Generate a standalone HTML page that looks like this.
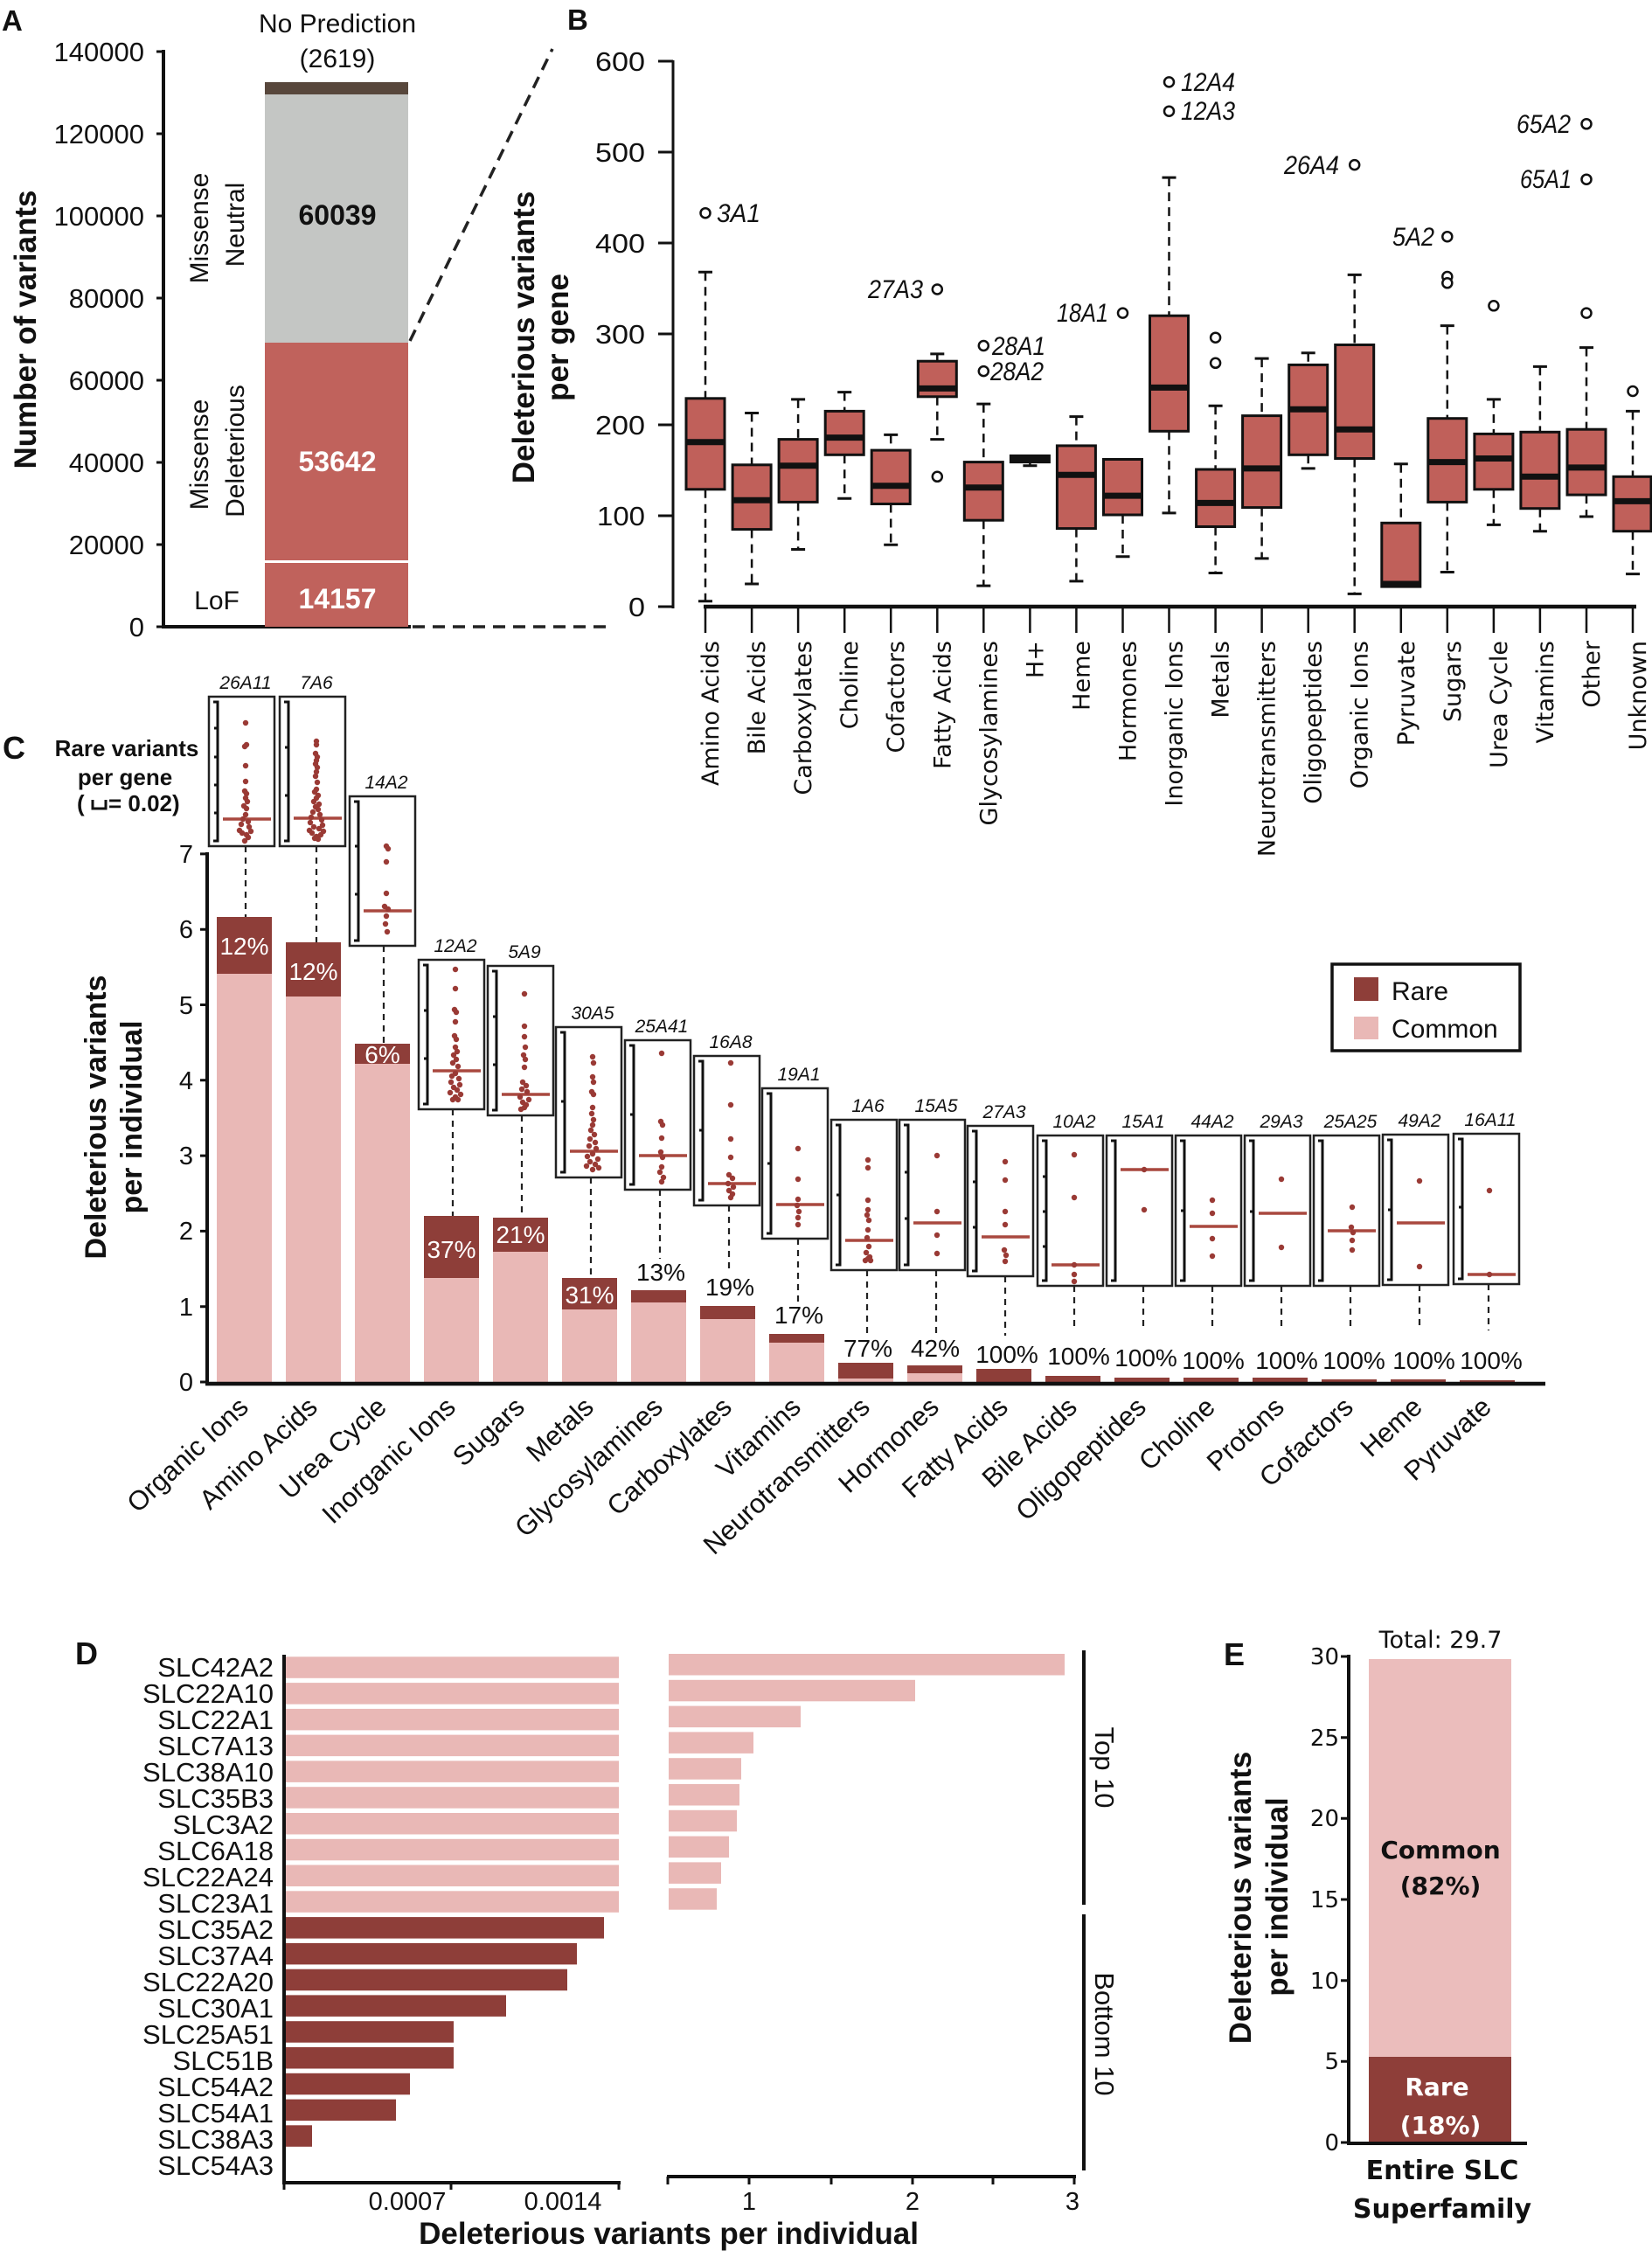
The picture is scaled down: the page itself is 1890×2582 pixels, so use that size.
<!DOCTYPE html>
<html><head><meta charset="utf-8">
<style>
html,body{margin:0;padding:0;background:#fff;}
svg{display:block;}
.l{font-family:"Liberation Sans",Arial,sans-serif;}
.d{font-family:"DejaVu Sans",sans-serif;}
</style></head><body>
<svg width="1890" height="2582" viewBox="0 0 1890 2582" xmlns="http://www.w3.org/2000/svg">
<rect width="1890" height="2582" fill="#fff"/>

<!-- ================= PANEL A ================= -->
<g class="l" fill="#111">
<text x="2" y="35" font-size="33" font-weight="bold">A</text>
<line x1="187" y1="57" x2="187" y2="719" stroke="#111" stroke-width="4"/>
<line x1="185" y1="717" x2="470" y2="717" stroke="#111" stroke-width="4"/>
<path d="M179 59H187M179 153H187M179 247H187M179 341H187M179 435H187M179 529H187M179 623H187M179 717H187" stroke="#111" stroke-width="3"/>
<g font-size="31" text-anchor="end">
<text x="165" y="70">140000</text>
<text x="165" y="164">120000</text>
<text x="165" y="258">100000</text>
<text x="165" y="352">80000</text>
<text x="165" y="446">60000</text>
<text x="165" y="540">40000</text>
<text x="165" y="634">20000</text>
<text x="165" y="728">0</text>
</g>
<rect x="303" y="94" width="164" height="14" fill="#58473C"/>
<rect x="303" y="108" width="164" height="284" fill="#C4C6C4"/>
<rect x="303" y="392" width="164" height="325" fill="#C0625C"/>
<rect x="303" y="641" width="164" height="3" fill="#fff"/>
<g font-size="30" text-anchor="middle">
<text x="386" y="37">No Prediction</text>
<text x="386" y="77">(2619)</text>
<text x="248" y="697">LoF</text>
</g>
<g font-size="32" font-weight="bold" text-anchor="middle">
<text x="386" y="257" fill="#111">60039</text>
<text x="386" y="539" fill="#fff">53642</text>
<text x="386" y="696" fill="#fff">14157</text>
</g>
<g font-size="30" text-anchor="middle">
<text transform="translate(238,261) rotate(-90)">Missense</text>
<text transform="translate(279,257) rotate(-90)">Neutral</text>
<text transform="translate(238,520) rotate(-90)">Missense</text>
<text transform="translate(279,516) rotate(-90)">Deleterious</text>
</g>
<text transform="translate(41,377) rotate(-90)" font-size="35" font-weight="bold" text-anchor="middle">Number of variants</text>
</g>
<line x1="469" y1="390" x2="632" y2="56" stroke="#222" stroke-width="3.5" stroke-dasharray="14 9"/>
<line x1="472" y1="717" x2="702" y2="717" stroke="#222" stroke-width="3.5" stroke-dasharray="14 9"/>

<!-- ================= PANEL B ================= -->
<g class="l" fill="#111">
<text x="649" y="34" font-size="33" font-weight="bold">B</text>
<text transform="translate(611,386) rotate(-90)" font-size="35" font-weight="bold" text-anchor="middle">Deleterious variants</text>
<text transform="translate(650,386) rotate(-90)" font-size="35" font-weight="bold" text-anchor="middle">per gene</text>
<line x1="770" y1="69" x2="770" y2="696" stroke="#111" stroke-width="3"/>
<path d="M753 70H770M753 174H770M753 278H770M753 382H770M753 486H770M753 590H770M753 694H770" stroke="#111" stroke-width="3"/>
<g font-size="31" text-anchor="end">
<text x="738" y="81" textLength="57" lengthAdjust="spacingAndGlyphs">600</text>
<text x="738" y="185" textLength="57" lengthAdjust="spacingAndGlyphs">500</text>
<text x="738" y="289" textLength="57" lengthAdjust="spacingAndGlyphs">400</text>
<text x="738" y="393" textLength="57" lengthAdjust="spacingAndGlyphs">300</text>
<text x="738" y="497" textLength="57" lengthAdjust="spacingAndGlyphs">200</text>
<text x="738" y="601" textLength="55" lengthAdjust="spacingAndGlyphs">100</text>
<text x="738" y="705" textLength="19" lengthAdjust="spacingAndGlyphs">0</text>
</g>
<line x1="805" y1="694" x2="1872" y2="694" stroke="#111" stroke-width="4.5"/>
<path d="M807 694V724M860.1 694V724M913.1 694V724M966.2 694V724M1019.2 694V724M1072.3 694V724M1125.3 694V724M1178.4 694V724M1231.4 694V724M1284.5 694V724M1337.5 694V724M1390.6 694V724M1443.6 694V724M1496.7 694V724M1549.7 694V724M1602.8 694V724M1655.8 694V724M1708.9 694V724M1761.9 694V724M1815 694V724M1868 694V724" stroke="#111" stroke-width="2.5"/>
</g>
<path d="M807 311.3V455.8M807 559.8V687.8M860.1 472.5V531.8M860.1 605.6V668M913.1 456.9V502.6M913.1 574.4V628.5M966.2 448.6V470.4M966.2 520.3V570.2M1019.2 497.4V515.1M1019.2 576.5V623.3M1072.3 404.9V413.2M1072.3 453.8V502.6M1125.3 462.1V528.6M1125.3 595.2V670.1M1178.4 528.6V532.8M1231.4 476.6V509.9M1231.4 604.6V664.9M1284.5 589V636.8M1337.5 203.1V361.2M1337.5 493.3V586.9M1390.6 464.2V537M1390.6 602.5V655.5M1443.6 410.1V475.6M1443.6 580.6V638.9M1496.7 403.8V417.4M1496.7 520.3V535.9M1549.7 314.4V394.5M1549.7 524.5V679.4M1602.8 530.7V598.3M1655.8 372.6V478.7M1655.8 574.4V654.5M1708.9 456.9V496.4M1708.9 559.8V600.4M1761.9 419.4V494.3M1761.9 581.7V607.7M1815 397.6V491.2M1815 566.1V591M1868 470.4V545.3M1868 607.7V656.6" stroke="#111" stroke-width="2.5" stroke-dasharray="10 7" fill="none"/>
<path d="M799 311.3h16M799 687.8h16M852.1 472.5h16M852.1 668h16M905.1 456.9h16M905.1 628.5h16M958.2 448.6h16M958.2 570.2h16M1011.2 497.4h16M1011.2 623.3h16M1064.3 404.9h16M1064.3 502.6h16M1117.3 462.1h16M1117.3 670.1h16M1170.4 532.8h16M1223.4 476.6h16M1223.4 664.9h16M1276.5 636.8h16M1329.5 203.1h16M1329.5 586.9h16M1382.6 464.2h16M1382.6 655.5h16M1435.6 410.1h16M1435.6 638.9h16M1488.7 403.8h16M1488.7 535.9h16M1541.7 314.4h16M1541.7 679.4h16M1594.8 530.7h16M1647.8 372.6h16M1647.8 654.5h16M1700.9 456.9h16M1700.9 600.4h16M1753.9 419.4h16M1753.9 607.7h16M1807 397.6h16M1807 591h16M1860 470.4h16M1860 656.6h16" stroke="#111" stroke-width="3" fill="none"/>
<g fill="#C0605A" stroke="#111" stroke-width="3">
<rect x="785" y="455.8" width="44" height="104"/>
<rect x="838.1" y="531.8" width="44" height="73.8"/>
<rect x="891.1" y="502.6" width="44" height="71.8"/>
<rect x="944.2" y="470.4" width="44" height="49.9"/>
<rect x="997.2" y="515.1" width="44" height="61.4"/>
<rect x="1050.3" y="413.2" width="44" height="40.6"/>
<rect x="1103.3" y="528.6" width="44" height="66.6"/>
<rect x="1156.4" y="521.4" width="44" height="7.2"/>
<rect x="1209.4" y="509.9" width="44" height="94.7"/>
<rect x="1262.5" y="525.5" width="44" height="63.5"/>
<rect x="1315.5" y="361.2" width="44" height="132.1"/>
<rect x="1368.6" y="537" width="44" height="65.5"/>
<rect x="1421.6" y="475.6" width="44" height="105"/>
<rect x="1474.7" y="417.4" width="44" height="102.9"/>
<rect x="1527.7" y="394.5" width="44" height="130"/>
<rect x="1580.8" y="598.3" width="44" height="72.8"/>
<rect x="1633.8" y="478.7" width="44" height="95.7"/>
<rect x="1686.9" y="496.4" width="44" height="63.4"/>
<rect x="1739.9" y="494.3" width="44" height="87.4"/>
<rect x="1793" y="491.2" width="44" height="74.9"/>
<rect x="1846" y="545.3" width="43" height="62.4"/>
</g>
<path d="M785 505.8h44M838.1 572.3h44M891.1 532.8h44M944.2 500.6h44M997.2 555.7h44M1050.3 444.4h44M1103.3 557.8h44M1156.4 525.5h44M1209.4 543.2h44M1262.5 567.1h44M1315.5 443.4h44M1368.6 575.4h44M1421.6 535.9h44M1474.7 468.3h44M1527.7 491.2h44M1580.8 668h44M1633.8 528.6h44M1686.9 524.5h44M1739.9 545.3h44M1793 534.9h44M1846 573.4h44" stroke="#111" stroke-width="7" fill="none"/>
<g fill="#fff" stroke="#111" stroke-width="2.5">
<circle cx="807" cy="243.7" r="5.5"/><circle cx="1072.3" cy="545.3" r="5.5"/><circle cx="1072.3" cy="331" r="5.5"/>
<circle cx="1125.3" cy="395.5" r="5.5"/><circle cx="1125.3" cy="424.6" r="5.5"/><circle cx="1284.5" cy="358.1" r="5.5"/>
<circle cx="1337.5" cy="93.9" r="5.5"/><circle cx="1337.5" cy="127.2" r="5.5"/><circle cx="1390.6" cy="386.2" r="5.5"/>
<circle cx="1390.6" cy="415.3" r="5.5"/><circle cx="1549.7" cy="188.6" r="5.5"/><circle cx="1655.8" cy="270.7" r="5.5"/>
<circle cx="1655.8" cy="316.5" r="5.5"/><circle cx="1655.8" cy="323.8" r="5.5"/><circle cx="1708.9" cy="349.8" r="5.5"/>
<circle cx="1815" cy="358.1" r="5.5"/><circle cx="1815" cy="205.2" r="5.5"/><circle cx="1815" cy="141.8" r="5.5"/>
<circle cx="1868" cy="447.5" r="5.5"/>
</g>
<g class="l" font-size="30" font-style="italic" fill="#111">
<text x="820" y="254" textLength="50" lengthAdjust="spacingAndGlyphs">3A1</text>
<text x="993" y="341" textLength="63" lengthAdjust="spacingAndGlyphs">27A3</text>
<text x="1135" y="406" textLength="61" lengthAdjust="spacingAndGlyphs">28A1</text>
<text x="1133" y="435" textLength="61" lengthAdjust="spacingAndGlyphs">28A2</text>
<text x="1209" y="368" textLength="59" lengthAdjust="spacingAndGlyphs">18A1</text>
<text x="1351" y="104" textLength="62" lengthAdjust="spacingAndGlyphs">12A4</text>
<text x="1351" y="137" textLength="62" lengthAdjust="spacingAndGlyphs">12A3</text>
<text x="1469" y="199" textLength="63" lengthAdjust="spacingAndGlyphs">26A4</text>
<text x="1593" y="281" textLength="48" lengthAdjust="spacingAndGlyphs">5A2</text>
<text x="1735" y="152" textLength="62" lengthAdjust="spacingAndGlyphs">65A2</text>
<text x="1739" y="215" textLength="59" lengthAdjust="spacingAndGlyphs">65A1</text>
</g>
<g class="d" font-size="27" text-anchor="end" fill="#111">
<text transform="translate(822,733) rotate(-90)">Amino Acids</text>
<text transform="translate(875.1,733) rotate(-90)">Bile Acids</text>
<text transform="translate(928.1,733) rotate(-90)">Carboxylates</text>
<text transform="translate(981.2,733) rotate(-90)">Choline</text>
<text transform="translate(1034.2,733) rotate(-90)">Cofactors</text>
<text transform="translate(1087.3,733) rotate(-90)">Fatty Acids</text>
<text transform="translate(1140.3,733) rotate(-90)">Glycosylamines</text>
<text transform="translate(1193.4,733) rotate(-90)">H+</text>
<text transform="translate(1246.4,733) rotate(-90)">Heme</text>
<text transform="translate(1299.5,733) rotate(-90)">Hormones</text>
<text transform="translate(1352.5,733) rotate(-90)">Inorganic Ions</text>
<text transform="translate(1405.6,733) rotate(-90)">Metals</text>
<text transform="translate(1458.6,733) rotate(-90)">Neurotransmitters</text>
<text transform="translate(1511.7,733) rotate(-90)">Oligopeptides</text>
<text transform="translate(1564.7,733) rotate(-90)">Organic Ions</text>
<text transform="translate(1617.8,733) rotate(-90)">Pyruvate</text>
<text transform="translate(1670.8,733) rotate(-90)">Sugars</text>
<text transform="translate(1723.9,733) rotate(-90)">Urea Cycle</text>
<text transform="translate(1776.9,733) rotate(-90)">Vitamins</text>
<text transform="translate(1830,733) rotate(-90)">Other</text>
<text transform="translate(1883,733) rotate(-90)">Unknown</text>
</g>

<!-- ================= PANEL C ================= -->
<g class="l" fill="#111">
<text x="3" y="868" font-size="36" font-weight="bold">C</text>
<g font-size="26" font-weight="bold" text-anchor="middle">
<text x="145" y="865">Rare variants</text>
<text x="143" y="898">per gene</text>
</g>
<text x="88" y="928" font-size="26" font-weight="bold">(</text>
<path d="M106 915V925H121V915" stroke="#111" stroke-width="3" fill="none"/>
<text x="124" y="928" font-size="26" font-weight="bold">= 0.02)</text>
<text transform="translate(121,1278) rotate(-90)" font-size="34" font-weight="bold" text-anchor="middle">Deleterious variants</text>
<text transform="translate(162,1278) rotate(-90)" font-size="34" font-weight="bold" text-anchor="middle">per individual</text>
<line x1="237" y1="975" x2="237" y2="1585" stroke="#111" stroke-width="4"/>
<path d="M229 1581H237M229 1494.7H237M229 1408.4H237M229 1322.1H237M229 1235.8H237M229 1149.5H237M229 1063.2H237M229 976.9H237" stroke="#111" stroke-width="3"/>
<g font-size="29" text-anchor="end">
<text x="221" y="1591">0</text>
<text x="221" y="1505">1</text>
<text x="221" y="1418">2</text>
<text x="221" y="1332">3</text>
<text x="221" y="1246">4</text>
<text x="221" y="1160">5</text>
<text x="221" y="1073">6</text>
<text x="221" y="987">7</text>
</g>
</g>
<!-- bars -->
<g fill="#E9B8B6">
<rect x="248" y="1114" width="63" height="467"/>
<rect x="327" y="1140" width="63" height="441"/>
<rect x="406" y="1217" width="63" height="364"/>
<rect x="485" y="1462" width="63" height="119"/>
<rect x="564" y="1432" width="63" height="149"/>
<rect x="643" y="1498" width="63" height="83"/>
<rect x="722" y="1490" width="63" height="91"/>
<rect x="801" y="1509" width="63" height="72"/>
<rect x="880" y="1536" width="63" height="45"/>
<rect x="959" y="1577" width="63" height="4"/>
<rect x="1038" y="1571" width="63" height="10"/>
</g>
<g fill="#8E3E39">
<rect x="248" y="1049" width="63" height="65"/>
<rect x="327" y="1078" width="63" height="62"/>
<rect x="406" y="1194" width="63" height="23"/>
<rect x="485" y="1391" width="63" height="71"/>
<rect x="564" y="1393" width="63" height="39"/>
<rect x="643" y="1462" width="63" height="36"/>
<rect x="722" y="1476" width="63" height="14"/>
<rect x="801" y="1494" width="63" height="15"/>
<rect x="880" y="1526" width="63" height="10"/>
<rect x="959" y="1559" width="63" height="18"/>
<rect x="1038" y="1562" width="63" height="9"/>
<rect x="1117" y="1566" width="63" height="15"/>
<rect x="1196" y="1574" width="63" height="7"/>
<rect x="1275" y="1576" width="63" height="5"/>
<rect x="1354" y="1576" width="63" height="5"/>
<rect x="1433" y="1576" width="63" height="5"/>
<rect x="1512" y="1578" width="63" height="3"/>
<rect x="1591" y="1578" width="63" height="3"/>
<rect x="1670" y="1579" width="63" height="2"/>
</g>
<line x1="235" y1="1583" x2="1768" y2="1583" stroke="#111" stroke-width="4.5"/>
<!-- percent labels -->
<g class="l" font-size="28" text-anchor="middle">
<g fill="#fff">
<text x="279.5" y="1092">12%</text>
<text x="358.5" y="1121">12%</text>
<text x="437.5" y="1216">6%</text>
<text x="516.5" y="1439">37%</text>
<text x="595.5" y="1422">21%</text>
<text x="674.5" y="1491">31%</text>
</g>
<g fill="#111">
<text x="756" y="1465">13%</text>
<text x="835" y="1482">19%</text>
<text x="914" y="1514">17%</text>
<text x="993" y="1552">77%</text>
<text x="1070" y="1552">42%</text>
<text x="1152" y="1559">100%</text>
<text x="1234" y="1561">100%</text>
<text x="1311" y="1563">100%</text>
<text x="1388" y="1566">100%</text>
<text x="1472" y="1566">100%</text>
<text x="1549" y="1566">100%</text>
<text x="1629" y="1566">100%</text>
<text x="1706" y="1566">100%</text>
</g>
</g>
<!-- dashed connectors -->
<path d="M281 968V1049M362 968V1078M439 1082V1194M518 1269V1391M597 1276V1393M676 1347V1462M755 1361V1440M834 1379V1455M913 1417V1490M992 1453V1525M1071 1453V1525M1150 1460V1528M1229 1471V1522M1308 1471V1522M1387 1471V1522M1466 1471V1522M1545 1471V1522M1624 1470V1522M1703 1469V1522" stroke="#222" stroke-width="2.2" stroke-dasharray="7 6" fill="none"/>
<!-- inset boxes -->
<g fill="#fff" stroke="#222" stroke-width="2.5">
<rect x="239" y="797" width="75" height="171"/>
<rect x="320" y="797" width="75" height="171"/>
<rect x="400" y="911" width="75" height="171"/>
<rect x="479" y="1098" width="75" height="171"/>
<rect x="558" y="1105" width="75" height="171"/>
<rect x="636" y="1175" width="75" height="172"/>
<rect x="715" y="1190" width="75" height="171"/>
<rect x="794" y="1208" width="75" height="171"/>
<rect x="872" y="1245" width="75" height="172"/>
<rect x="951" y="1281" width="75" height="172"/>
<rect x="1029" y="1281" width="75" height="172"/>
<rect x="1107" y="1288" width="75" height="172"/>
<rect x="1187" y="1299" width="75" height="172"/>
<rect x="1266" y="1299" width="75" height="172"/>
<rect x="1345" y="1299" width="75" height="172"/>
<rect x="1424" y="1299" width="75" height="172"/>
<rect x="1503" y="1299" width="75" height="172"/>
<rect x="1582" y="1298" width="75" height="172"/>
<rect x="1663" y="1297" width="75" height="172"/>
</g>
<path d="M244 803H249V962H244M245 833H249M245 866H249M245 898H249M245 930H249
M325 803H330V962H325M326 855H330M326 910H330
M405 917H410V1076H405M406 968H410M406 1023H410
M484 1104H489V1263H484M485 1156H489M485 1211H489
M563 1111H568V1270H563M564 1163H568M564 1218H568
M641 1181H646V1341H641M642 1260H646
M720 1196H725V1355H720M721 1275H725
M799 1214H804V1373H799M800 1293H804
M877 1251H882V1411H877M878 1331H882
M956 1287H961V1447H956M957 1367H961
M1034 1287H1039V1447H1034M1035 1341H1039M1035 1394H1039
M1112 1294H1117V1454H1112M1113 1352H1117M1113 1404H1117
M1192 1305H1197V1465H1192M1193 1346H1197M1193 1386H1197M1193 1426H1197
M1271 1305H1276V1465H1271
M1350 1305H1355V1465H1350M1351 1385H1355
M1429 1305H1434V1465H1429M1430 1386H1434
M1508 1305H1513V1465H1508
M1587 1304H1592V1464H1587M1588 1384H1592
M1668 1303H1673V1463H1668M1669 1381H1673" stroke="#111" stroke-width="3" fill="none"/>
<path d="M255 937H310M336 936H391M416 1042H471M495 1225H550M574 1252H629M652 1317H707M731 1322H786M810 1354H865M888 1378H943M967 1419H1022M1045 1399H1100M1123 1415H1178M1203 1447H1258M1282 1338H1337M1361 1403H1416M1440 1388H1495M1519 1408H1574M1598 1399H1653M1679 1458H1734" stroke="#A9483F" stroke-width="3.5" fill="none"/>
<g fill="#9A3A35">
<circle cx="281" cy="827" r="3.2"/><circle cx="282" cy="852" r="3.2"/><circle cx="280" cy="854" r="3.2"/><circle cx="281" cy="876" r="3.2"/><circle cx="281" cy="894" r="3.2"/><circle cx="280" cy="905" r="3.2"/><circle cx="282" cy="908" r="3.2"/><circle cx="281" cy="913" r="3.2"/><circle cx="283" cy="917" r="3.2"/><circle cx="279" cy="922" r="3.2"/><circle cx="282" cy="925" r="3.2"/><circle cx="281" cy="932" r="3.2"/><circle cx="278" cy="937" r="3.2"/><circle cx="284" cy="940" r="3.2"/><circle cx="276" cy="943" r="3.2"/><circle cx="285" cy="946" r="3.2"/><circle cx="274" cy="950" r="3.2"/><circle cx="287" cy="951" r="3.2"/><circle cx="277" cy="953" r="3.2"/><circle cx="282" cy="955" r="3.2"/><circle cx="284" cy="958" r="3.2"/><circle cx="280" cy="962" r="3.2"/>
<circle cx="362" cy="848" r="3.2"/><circle cx="362" cy="852" r="3.2"/><circle cx="361" cy="862" r="3.2"/><circle cx="363" cy="866" r="3.2"/><circle cx="362" cy="870" r="3.2"/><circle cx="361" cy="874" r="3.2"/><circle cx="363" cy="878" r="3.2"/><circle cx="362" cy="883" r="3.2"/><circle cx="361" cy="888" r="3.2"/><circle cx="363" cy="895" r="3.2"/><circle cx="362" cy="903" r="3.2"/><circle cx="360" cy="906" r="3.2"/><circle cx="364" cy="910" r="3.2"/><circle cx="362" cy="913" r="3.2"/><circle cx="359" cy="917" r="3.2"/><circle cx="365" cy="920" r="3.2"/><circle cx="361" cy="923" r="3.2"/><circle cx="364" cy="926" r="3.2"/><circle cx="358" cy="929" r="3.2"/><circle cx="366" cy="932" r="3.2"/><circle cx="356" cy="935" r="3.2"/><circle cx="368" cy="938" r="3.2"/><circle cx="355" cy="941" r="3.2"/><circle cx="369" cy="944" r="3.2"/><circle cx="359" cy="946" r="3.2"/><circle cx="365" cy="948" r="3.2"/><circle cx="354" cy="950" r="3.2"/><circle cx="370" cy="951" r="3.2"/><circle cx="357" cy="953" r="3.2"/><circle cx="367" cy="955" r="3.2"/><circle cx="362" cy="957" r="3.2"/><circle cx="360" cy="959" r="3.2"/><circle cx="364" cy="960" r="3.2"/>
<circle cx="442" cy="968" r="3.2"/><circle cx="444" cy="971" r="3.2"/><circle cx="442" cy="986" r="3.2"/><circle cx="442" cy="1022" r="3.2"/><circle cx="440" cy="1037" r="3.2"/><circle cx="444" cy="1040" r="3.2"/><circle cx="442" cy="1048" r="3.2"/><circle cx="441" cy="1057" r="3.2"/><circle cx="443" cy="1066" r="3.2"/>
<circle cx="521" cy="1109" r="3.2"/><circle cx="521" cy="1131" r="3.2"/><circle cx="520" cy="1155" r="3.2"/><circle cx="522" cy="1158" r="3.2"/><circle cx="521" cy="1169" r="3.2"/><circle cx="520" cy="1185" r="3.2"/><circle cx="522" cy="1189" r="3.2"/><circle cx="521" cy="1198" r="3.2"/><circle cx="523" cy="1203" r="3.2"/><circle cx="519" cy="1207" r="3.2"/><circle cx="522" cy="1212" r="3.2"/><circle cx="518" cy="1216" r="3.2"/><circle cx="524" cy="1220" r="3.2"/><circle cx="521" cy="1228" r="3.2"/><circle cx="517" cy="1231" r="3.2"/><circle cx="525" cy="1234" r="3.2"/><circle cx="516" cy="1238" r="3.2"/><circle cx="526" cy="1241" r="3.2"/><circle cx="519" cy="1244" r="3.2"/><circle cx="523" cy="1247" r="3.2"/><circle cx="515" cy="1250" r="3.2"/><circle cx="527" cy="1252" r="3.2"/><circle cx="521" cy="1255" r="3.2"/><circle cx="518" cy="1258" r="3.2"/><circle cx="524" cy="1258" r="3.2"/>
<circle cx="600" cy="1137" r="3.2"/><circle cx="600" cy="1174" r="3.2"/><circle cx="600" cy="1186" r="3.2"/><circle cx="601" cy="1198" r="3.2"/><circle cx="599" cy="1207" r="3.2"/><circle cx="601" cy="1212" r="3.2"/><circle cx="600" cy="1221" r="3.2"/><circle cx="598" cy="1238" r="3.2"/><circle cx="602" cy="1242" r="3.2"/><circle cx="597" cy="1246" r="3.2"/><circle cx="603" cy="1249" r="3.2"/><circle cx="595" cy="1255" r="3.2"/><circle cx="605" cy="1258" r="3.2"/><circle cx="598" cy="1261" r="3.2"/><circle cx="602" cy="1264" r="3.2"/><circle cx="600" cy="1267" r="3.2"/><circle cx="596" cy="1269" r="3.2"/>
<circle cx="678" cy="1209" r="3.2"/><circle cx="679" cy="1216" r="3.2"/><circle cx="678" cy="1232" r="3.2"/><circle cx="679" cy="1238" r="3.2"/><circle cx="677" cy="1249" r="3.2"/><circle cx="679" cy="1252" r="3.2"/><circle cx="678" cy="1267" r="3.2"/><circle cx="677" cy="1274" r="3.2"/><circle cx="679" cy="1281" r="3.2"/><circle cx="678" cy="1287" r="3.2"/><circle cx="676" cy="1293" r="3.2"/><circle cx="680" cy="1298" r="3.2"/><circle cx="675" cy="1303" r="3.2"/><circle cx="681" cy="1307" r="3.2"/><circle cx="674" cy="1311" r="3.2"/><circle cx="682" cy="1314" r="3.2"/><circle cx="678" cy="1320" r="3.2"/><circle cx="672" cy="1323" r="3.2"/><circle cx="684" cy="1326" r="3.2"/><circle cx="675" cy="1329" r="3.2"/><circle cx="681" cy="1332" r="3.2"/><circle cx="671" cy="1334" r="3.2"/><circle cx="685" cy="1336" r="3.2"/><circle cx="678" cy="1338" r="3.2"/>
<circle cx="757" cy="1205" r="3.2"/><circle cx="756" cy="1283" r="3.2"/><circle cx="758" cy="1287" r="3.2"/><circle cx="757" cy="1302" r="3.2"/><circle cx="756" cy="1318" r="3.2"/><circle cx="758" cy="1324" r="3.2"/><circle cx="757" cy="1335" r="3.2"/><circle cx="755" cy="1341" r="3.2"/><circle cx="759" cy="1347" r="3.2"/><circle cx="757" cy="1352" r="3.2"/>
<circle cx="836" cy="1216" r="3.2"/><circle cx="836" cy="1264" r="3.2"/><circle cx="836" cy="1303" r="3.2"/><circle cx="836" cy="1324" r="3.2"/><circle cx="834" cy="1344" r="3.2"/><circle cx="838" cy="1348" r="3.2"/><circle cx="833" cy="1354" r="3.2"/><circle cx="839" cy="1358" r="3.2"/><circle cx="834" cy="1362" r="3.2"/><circle cx="838" cy="1366" r="3.2"/><circle cx="836" cy="1370" r="3.2"/>
<circle cx="913" cy="1314" r="3.2"/><circle cx="913" cy="1349" r="3.2"/><circle cx="913" cy="1372" r="3.2"/><circle cx="912" cy="1379" r="3.2"/><circle cx="914" cy="1386" r="3.2"/><circle cx="913" cy="1393" r="3.2"/><circle cx="913" cy="1401" r="3.2"/>
<circle cx="993" cy="1327" r="3.2"/><circle cx="993" cy="1336" r="3.2"/><circle cx="993" cy="1373" r="3.2"/><circle cx="993" cy="1384" r="3.2"/><circle cx="992" cy="1390" r="3.2"/><circle cx="994" cy="1396" r="3.2"/><circle cx="993" cy="1407" r="3.2"/><circle cx="992" cy="1416" r="3.2"/><circle cx="994" cy="1426" r="3.2"/><circle cx="991" cy="1433" r="3.2"/><circle cx="995" cy="1438" r="3.2"/><circle cx="990" cy="1442" r="3.2"/><circle cx="996" cy="1442" r="3.2"/><circle cx="993" cy="1440" r="3.2"/>
<circle cx="1072" cy="1322" r="3.2"/><circle cx="1072" cy="1386" r="3.2"/><circle cx="1072" cy="1413" r="3.2"/><circle cx="1072" cy="1434" r="3.2"/>
<circle cx="1150" cy="1329" r="3.2"/><circle cx="1150" cy="1350" r="3.2"/><circle cx="1150" cy="1386" r="3.2"/><circle cx="1150" cy="1401" r="3.2"/><circle cx="1149" cy="1430" r="3.2"/><circle cx="1151" cy="1436" r="3.2"/><circle cx="1150" cy="1443" r="3.2"/>
<circle cx="1229" cy="1321" r="3.2"/><circle cx="1229" cy="1370" r="3.2"/><circle cx="1229" cy="1447" r="3.2"/><circle cx="1229" cy="1458" r="3.2"/><circle cx="1229" cy="1466" r="3.2"/>
<circle cx="1309" cy="1338" r="3.2"/><circle cx="1309" cy="1384" r="3.2"/>
<circle cx="1387" cy="1373" r="3.2"/><circle cx="1387" cy="1388" r="3.2"/><circle cx="1387" cy="1417" r="3.2"/><circle cx="1387" cy="1437" r="3.2"/>
<circle cx="1466" cy="1349" r="3.2"/><circle cx="1466" cy="1427" r="3.2"/>
<circle cx="1547" cy="1381" r="3.2"/><circle cx="1546" cy="1404" r="3.2"/><circle cx="1548" cy="1410" r="3.2"/><circle cx="1547" cy="1419" r="3.2"/><circle cx="1547" cy="1430" r="3.2"/>
<circle cx="1624" cy="1351" r="3.2"/><circle cx="1624" cy="1449" r="3.2"/>
<circle cx="1704" cy="1362" r="3.2"/><circle cx="1704" cy="1458" r="3.2"/>
</g>
<g class="l" font-size="21" font-style="italic" text-anchor="middle" fill="#111">
<text x="281" y="788">26A11</text>
<text x="362" y="788">7A6</text>
<text x="442" y="902">14A2</text>
<text x="521" y="1089">12A2</text>
<text x="600" y="1096">5A9</text>
<text x="678" y="1166">30A5</text>
<text x="757" y="1181">25A41</text>
<text x="836" y="1199">16A8</text>
<text x="914" y="1236">19A1</text>
<text x="993" y="1272">1A6</text>
<text x="1071" y="1272">15A5</text>
<text x="1149" y="1279">27A3</text>
<text x="1229" y="1290">10A2</text>
<text x="1308" y="1290">15A1</text>
<text x="1387" y="1290">44A2</text>
<text x="1466" y="1290">29A3</text>
<text x="1545" y="1290">25A25</text>
<text x="1624" y="1289">49A2</text>
<text x="1705" y="1288">16A11</text>
</g>
<!-- legend -->
<rect x="1524" y="1103" width="215" height="99" fill="#fff" stroke="#111" stroke-width="3.5"/>
<rect x="1549" y="1118" width="28" height="27" fill="#8E3E39"/>
<rect x="1549" y="1163" width="28" height="26" fill="#E9B8B6"/>
<g class="l" font-size="30" fill="#111">
<text x="1592" y="1144">Rare</text>
<text x="1592" y="1187">Common</text>
</g>
<!-- C category labels -->
<g class="l" font-size="31" text-anchor="end" fill="#111">
<text transform="translate(286,1612) rotate(-43)">Organic Ions</text>
<text transform="translate(365,1612) rotate(-43)">Amino Acids</text>
<text transform="translate(444,1612) rotate(-43)">Urea Cycle</text>
<text transform="translate(523,1612) rotate(-43)">Inorganic Ions</text>
<text transform="translate(602,1612) rotate(-43)">Sugars</text>
<text transform="translate(681,1612) rotate(-43)">Metals</text>
<text transform="translate(760,1612) rotate(-43)">Glycosylamines</text>
<text transform="translate(839,1612) rotate(-43)">Carboxylates</text>
<text transform="translate(918,1612) rotate(-43)">Vitamins</text>
<text transform="translate(997,1612) rotate(-43)">Neurotransmitters</text>
<text transform="translate(1076,1612) rotate(-43)">Hormones</text>
<text transform="translate(1155,1612) rotate(-43)">Fatty Acids</text>
<text transform="translate(1234,1612) rotate(-43)">Bile Acids</text>
<text transform="translate(1313,1612) rotate(-43)">Oligopeptides</text>
<text transform="translate(1392,1612) rotate(-43)">Choline</text>
<text transform="translate(1471,1612) rotate(-43)">Protons</text>
<text transform="translate(1550,1612) rotate(-43)">Cofactors</text>
<text transform="translate(1629,1612) rotate(-43)">Heme</text>
<text transform="translate(1708,1612) rotate(-43)">Pyruvate</text>
</g>

<!-- ================= PANEL D ================= -->
<g class="l" fill="#111">
<text x="86" y="1904" font-size="36" font-weight="bold">D</text>
<g font-size="31" text-anchor="end">
<text x="313" y="1918">SLC42A2</text>
<text x="313" y="1948">SLC22A10</text>
<text x="313" y="1978">SLC22A1</text>
<text x="313" y="2008">SLC7A13</text>
<text x="313" y="2038">SLC38A10</text>
<text x="313" y="2068">SLC35B3</text>
<text x="313" y="2098">SLC3A2</text>
<text x="313" y="2128">SLC6A18</text>
<text x="313" y="2158">SLC22A24</text>
<text x="313" y="2188">SLC23A1</text>
<text x="313" y="2218">SLC35A2</text>
<text x="313" y="2248">SLC37A4</text>
<text x="313" y="2278">SLC22A20</text>
<text x="313" y="2308">SLC30A1</text>
<text x="313" y="2338">SLC25A51</text>
<text x="313" y="2368">SLC51B</text>
<text x="313" y="2398">SLC54A2</text>
<text x="313" y="2428">SLC54A1</text>
<text x="313" y="2458">SLC38A3</text>
<text x="313" y="2488">SLC54A3</text>
</g>
</g>
<g fill="#E9B8B6">
<rect x="326" y="1895.3" width="382" height="24.5"/>
<rect x="326" y="1925.1" width="382" height="24.5"/>
<rect x="326" y="1954.9" width="382" height="24.5"/>
<rect x="326" y="1984.6" width="382" height="24.5"/>
<rect x="326" y="2014.4" width="382" height="24.5"/>
<rect x="326" y="2044.2" width="382" height="24.5"/>
<rect x="326" y="2074" width="382" height="24.5"/>
<rect x="326" y="2103.8" width="382" height="24.5"/>
<rect x="326" y="2133.5" width="382" height="24.5"/>
<rect x="326" y="2163.3" width="382" height="24.5"/>
<rect x="765" y="1892" width="453" height="24.5"/>
<rect x="765" y="1921.8" width="282" height="24.5"/>
<rect x="765" y="1951.6" width="151" height="24.5"/>
<rect x="765" y="1981.4" width="97" height="24.5"/>
<rect x="765" y="2011.2" width="83" height="24.5"/>
<rect x="765" y="2041" width="81" height="24.5"/>
<rect x="765" y="2070.8" width="78" height="24.5"/>
<rect x="765" y="2100.6" width="69" height="24.5"/>
<rect x="765" y="2130.4" width="60" height="24.5"/>
<rect x="765" y="2160.2" width="55" height="24.5"/>
</g>
<g fill="#8E3E39">
<rect x="326" y="2193.1" width="365" height="24.5"/>
<rect x="326" y="2222.9" width="334" height="24.5"/>
<rect x="326" y="2252.7" width="323" height="24.5"/>
<rect x="326" y="2282.4" width="253" height="24.5"/>
<rect x="326" y="2312.2" width="193" height="24.5"/>
<rect x="326" y="2342" width="193" height="24.5"/>
<rect x="326" y="2371.8" width="143" height="24.5"/>
<rect x="326" y="2401.6" width="127" height="24.5"/>
<rect x="326" y="2431.3" width="31" height="24.5"/>
</g>
<line x1="325" y1="1893" x2="325" y2="2499" stroke="#111" stroke-width="4"/>
<line x1="323" y1="2497" x2="710" y2="2497" stroke="#111" stroke-width="4"/>
<path d="M325 2497V2505M516 2497V2505M708 2497V2505" stroke="#111" stroke-width="3"/>
<line x1="763" y1="2490" x2="1231" y2="2490" stroke="#111" stroke-width="4"/>
<path d="M764 2490V2499M857 2490V2499M951 2490V2499M1044 2490V2499M1136 2490V2499M1229 2490V2499" stroke="#111" stroke-width="3"/>
<path d="M1240 1888V2179M1240 2190V2483" stroke="#111" stroke-width="4"/>
<g class="l" fill="#111">
<g font-size="29" text-anchor="middle">
<text x="466" y="2528">0.0007</text>
<text x="644" y="2528">0.0014</text>
<text x="857" y="2528">1</text>
<text x="1044" y="2528">2</text>
<text x="1227" y="2528">3</text>
</g>
<text transform="translate(1253,2022) rotate(90)" font-size="31" text-anchor="middle">Top 10</text>
<text transform="translate(1253,2327) rotate(90)" font-size="31" text-anchor="middle">Bottom 10</text>
<text x="765" y="2567" font-size="35" font-weight="bold" text-anchor="middle">Deleterious variants per individual</text>
</g>

<!-- ================= PANEL E ================= -->
<g class="l" fill="#111">
<text x="1400" y="1905" font-size="36" font-weight="bold">E</text>
<text transform="translate(1431,2171) rotate(-90)" font-size="35" font-weight="bold" text-anchor="middle">Deleterious variants</text>
<text transform="translate(1473,2170) rotate(-90)" font-size="35" font-weight="bold" text-anchor="middle">per individual</text>
</g>
<rect x="1566" y="1898" width="163" height="455" fill="#EBBDBC"/>
<rect x="1566" y="2353" width="163" height="98" fill="#8E3E39"/>
<line x1="1543" y1="1893" x2="1543" y2="2454" stroke="#111" stroke-width="4"/>
<line x1="1541" y1="2452" x2="1747" y2="2452" stroke="#111" stroke-width="4"/>
<path d="M1534 2451H1543M1534 2358.3H1543M1534 2265.7H1543M1534 2173H1543M1534 2080.3H1543M1534 1987.7H1543M1534 1895H1543" stroke="#111" stroke-width="3"/>
<g class="d" fill="#111">
<g font-size="26" text-anchor="end">
<text x="1532" y="2460">0</text>
<text x="1532" y="2367">5</text>
<text x="1532" y="2275">10</text>
<text x="1532" y="2182">15</text>
<text x="1532" y="2089">20</text>
<text x="1532" y="1997">25</text>
<text x="1532" y="1904">30</text>
</g>
<text x="1648" y="1885" font-size="27" text-anchor="middle">Total: 29.7</text>
<g font-size="28" font-weight="bold" text-anchor="middle">
<text x="1648" y="2126">Common</text>
<text x="1648" y="2167">(82%)</text>
<text x="1644" y="2397" fill="#fff">Rare</text>
<text x="1648" y="2441" fill="#fff">(18%)</text>
</g>
<g font-size="30" font-weight="bold" text-anchor="middle">
<text x="1650" y="2493">Entire SLC</text>
<text x="1650" y="2537">Superfamily</text>
</g>
</g>
</svg>
</body></html>
